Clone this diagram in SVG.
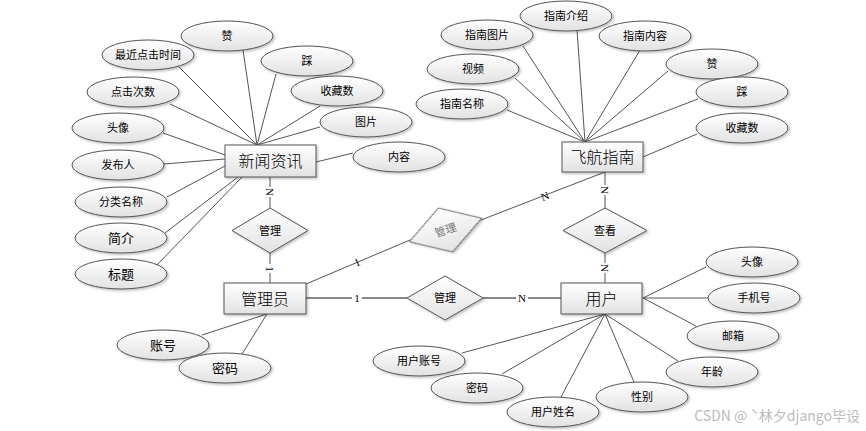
<svg xmlns="http://www.w3.org/2000/svg" width="866" height="431" viewBox="0 0 866 431">
<defs>
<linearGradient id="g" x1="0" y1="0" x2="0" y2="1">
<stop offset="0" stop-color="#ffffff"/>
<stop offset="1" stop-color="#e2e2e2"/>
</linearGradient>
<filter id="sh" x="-20%" y="-20%" width="150%" height="160%">
<feDropShadow dx="1.5" dy="1.5" stdDeviation="0.8" flood-color="#000" flood-opacity="0.25"/>
</filter>
</defs>
<style>
.e{fill:url(#g);stroke:#555;stroke-width:1;filter:url(#sh)}
.r{fill:url(#g);stroke:#555;stroke-width:1;filter:url(#sh)}
.d{fill:url(#g);stroke:#555;stroke-width:1;filter:url(#sh)}
.t{font-family:"Noto Sans CJK SC","Noto Sans",sans-serif;font-size:11px;fill:#000;text-anchor:middle}
.tb{font-family:"Noto Sans CJK SC","Noto Sans",sans-serif;font-size:13px;fill:#000;text-anchor:middle}
.te{font-family:"Noto Sans CJK SC","Noto Sans",sans-serif;font-size:16px;font-weight:300;fill:#000;text-anchor:middle}
.l{font-family:"Liberation Serif",serif;font-size:11px;fill:#000;text-anchor:middle}
.c line{stroke:#555;stroke-width:1}
</style>
<rect width="866" height="431" fill="#fff"/>
<g class="c" id="connectors">
<line x1="243" y1="50" x2="257" y2="145"/>
<line x1="179" y1="67" x2="257" y2="145"/>
<line x1="276" y1="74" x2="257" y2="145"/>
<line x1="170" y1="104" x2="257" y2="145"/>
<line x1="320" y1="106" x2="257" y2="145"/>
<line x1="163" y1="133" x2="225" y2="155"/>
<line x1="320" y1="127" x2="257" y2="145"/>
<line x1="164" y1="164" x2="225" y2="159"/>
<line x1="167" y1="197" x2="225" y2="166"/>
<line x1="165" y1="233" x2="238" y2="177"/>
<line x1="157" y1="265" x2="242" y2="177"/>
<line x1="353" y1="153" x2="316" y2="162"/>
<line x1="577" y1="30" x2="585" y2="142"/>
<line x1="523" y1="46" x2="585" y2="142"/>
<line x1="640" y1="50" x2="585" y2="142"/>
<line x1="515" y1="78" x2="585" y2="142"/>
<line x1="668" y1="71" x2="585" y2="142"/>
<line x1="507" y1="110" x2="585" y2="142"/>
<line x1="698" y1="99" x2="585" y2="142"/>
<line x1="697" y1="134" x2="643" y2="157"/>
<line x1="706" y1="267" x2="643" y2="298"/>
<line x1="708" y1="298" x2="643" y2="298"/>
<line x1="696" y1="326" x2="643" y2="298"/>
<line x1="678" y1="361" x2="605" y2="314"/>
<line x1="634" y1="382" x2="605" y2="314"/>
<line x1="561" y1="397" x2="605" y2="314"/>
<line x1="502" y1="374" x2="605" y2="314"/>
<line x1="462" y1="353" x2="605" y2="314"/>
<line x1="202" y1="335" x2="267" y2="314"/>
<line x1="242" y1="354" x2="267" y2="314"/>
<line x1="270" y1="177" x2="270" y2="208"/>
<line x1="270" y1="253" x2="270" y2="283"/>
<line x1="605" y1="172" x2="605" y2="208"/>
<line x1="605" y1="253" x2="605" y2="283"/>
<line x1="306" y1="284" x2="410" y2="240"/>
<line x1="481" y1="220" x2="605" y2="172"/>
<line x1="306" y1="298" x2="407" y2="298" style="stroke:#888;stroke-width:2"/>
<line x1="483" y1="298" x2="561" y2="298" style="stroke:#888;stroke-width:2"/>
<rect x="263" y="187" width="14" height="10" fill="#fff"/>
<text class="l" transform="translate(270,192) rotate(90)" y="4">N</text>
<rect x="263" y="264" width="14" height="9" fill="#fff"/>
<text class="l" transform="translate(270,269) rotate(90)" y="4">1</text>
<rect x="598" y="185" width="14" height="10" fill="#fff"/>
<text class="l" transform="translate(605,190) rotate(90)" y="4">N</text>
<rect x="598" y="263" width="14" height="10" fill="#fff"/>
<text class="l" transform="translate(605,268) rotate(90)" y="4">N</text>
<rect x="352" y="292" width="10" height="12" fill="#fff"/>
<text class="l" x="357" y="302">1</text>
<rect x="516" y="292" width="12" height="12" fill="#fff"/>
<text class="l" x="522" y="302">N</text>
<text class="l" transform="translate(357,262) rotate(-22)" y="4">1</text>
<text class="l" transform="translate(545,196) rotate(-22)" y="4">N</text>
</g>
<g id="news">
<rect class="r" x="225" y="145" width="91" height="32"/>
<text class="te" x="270.5" y="167">新闻资讯</text>
</g>
<g id="news-zan"><ellipse class="e" cx="227" cy="36" rx="46" ry="15"/><text class="t" x="227" y="40">赞</text></g>
<g id="news-time"><ellipse class="e" cx="148" cy="55" rx="46" ry="15"/><text class="t" x="148" y="59">最近点击时间</text></g>
<g id="news-cai"><ellipse class="e" cx="307" cy="61" rx="46" ry="15"/><text class="t" x="307" y="65">踩</text></g>
<g id="news-clicks"><ellipse class="e" cx="133" cy="92" rx="46" ry="15"/><text class="t" x="133" y="96">点击次数</text></g>
<g id="news-fav"><ellipse class="e" cx="337" cy="91" rx="46" ry="15"/><text class="t" x="337" y="95">收藏数</text></g>
<g id="news-avatar"><ellipse class="e" cx="118" cy="128" rx="46" ry="15"/><text class="t" x="118" y="132">头像</text></g>
<g id="news-pic"><ellipse class="e" cx="366" cy="122" rx="46" ry="15"/><text class="t" x="366" y="126">图片</text></g>
<g id="news-pub"><ellipse class="e" cx="118" cy="165" rx="46" ry="15"/><text class="t" x="118" y="169">发布人</text></g>
<g id="news-cat"><ellipse class="e" cx="121" cy="202" rx="46" ry="15"/><text class="t" x="121" y="206">分类名称</text></g>
<g id="news-intro"><ellipse class="e" cx="121" cy="238" rx="46" ry="15"/><text class="tb" x="121" y="243">简介</text></g>
<g id="news-title"><ellipse class="e" cx="121" cy="274" rx="46" ry="15"/><text class="tb" x="121" y="279">标题</text></g>
<g id="news-content"><ellipse class="e" cx="399" cy="157" rx="46" ry="15"/><text class="t" x="399" y="161">内容</text></g>
<g id="guide">
<rect class="r" x="562" y="142" width="81" height="30"/>
<text class="te" x="602.5" y="163">飞航指南</text>
</g>
<g id="g-intro"><ellipse class="e" cx="566" cy="16" rx="46" ry="15"/><text class="t" x="566" y="20">指南介绍</text></g>
<g id="g-pic"><ellipse class="e" cx="487" cy="35" rx="46" ry="15"/><text class="t" x="487" y="39">指南图片</text></g>
<g id="g-content"><ellipse class="e" cx="645" cy="36" rx="46" ry="15"/><text class="t" x="645" y="40">指南内容</text></g>
<g id="g-video"><ellipse class="e" cx="473" cy="69" rx="46" ry="15"/><text class="t" x="473" y="73">视频</text></g>
<g id="g-zan"><ellipse class="e" cx="712" cy="64" rx="46" ry="15"/><text class="t" x="712" y="68">赞</text></g>
<g id="g-name"><ellipse class="e" cx="462" cy="104" rx="46" ry="15"/><text class="t" x="462" y="108">指南名称</text></g>
<g id="g-cai"><ellipse class="e" cx="742" cy="92" rx="46" ry="15"/><text class="t" x="742" y="96">踩</text></g>
<g id="g-fav"><ellipse class="e" cx="742" cy="128" rx="46" ry="15"/><text class="t" x="742" y="132">收藏数</text></g>
<g id="user">
<rect class="r" x="561" y="283" width="81" height="31"/>
<text class="te" x="601.5" y="304.5">用户</text>
</g>
<g id="u-avatar"><ellipse class="e" cx="752" cy="262" rx="46" ry="15"/><text class="t" x="752" y="266">头像</text></g>
<g id="u-phone"><ellipse class="e" cx="754" cy="298" rx="46" ry="15"/><text class="t" x="754" y="302">手机号</text></g>
<g id="u-mail"><ellipse class="e" cx="733" cy="336" rx="46" ry="15"/><text class="t" x="733" y="340">邮箱</text></g>
<g id="u-age"><ellipse class="e" cx="712" cy="372" rx="46" ry="15"/><text class="t" x="712" y="376">年龄</text></g>
<g id="u-sex"><ellipse class="e" cx="642" cy="397" rx="46" ry="15"/><text class="t" x="642" y="401">性别</text></g>
<g id="u-name"><ellipse class="e" cx="553" cy="412" rx="46" ry="15"/><text class="t" x="553" y="416">用户姓名</text></g>
<g id="u-pwd"><ellipse class="e" cx="477" cy="388" rx="46" ry="15"/><text class="t" x="477" y="392">密码</text></g>
<g id="u-acc"><ellipse class="e" cx="419" cy="361" rx="46" ry="15"/><text class="t" x="419" y="365">用户账号</text></g>
<g id="admin">
<rect class="r" x="224" y="283" width="82" height="31"/>
<text class="te" x="265" y="304.5">管理员</text>
</g>
<g id="a-acc"><ellipse class="e" cx="163" cy="345" rx="46" ry="15"/><text class="tb" x="163" y="350">账号</text></g>
<g id="a-pwd"><ellipse class="e" cx="225" cy="368" rx="46" ry="15"/><text class="tb" x="225" y="373">密码</text></g>
<g id="rel-news">
<polygon class="d" points="270,208 308,230.5 270,253 232,230.5"/>
<text class="t" x="270" y="234.5">管理</text>
</g>
<g id="rel-view">
<polygon class="d" points="605,208 647,230.5 605,253 563,230.5"/>
<text class="t" x="605" y="234.5">查看</text>
</g>
<g id="rel-guide" transform="translate(445.5,230) rotate(-18)">
<polygon class="d" points="0,-23 38,0 0,23 -38,0"/>
<text class="t" x="0" y="4" style="fill:#777">管理</text>
</g>
<g id="rel-user">
<polygon class="d" points="445,276 483,298 445,320 407,298"/>
<text class="t" x="445" y="302">管理</text>
</g>
<text x="860" y="421" style="font-family:'Noto Sans CJK SC','Noto Sans',sans-serif;font-size:14px;fill:#bbb;text-anchor:end">CSDN @ ˋ林夕django毕设</text>
</svg>
